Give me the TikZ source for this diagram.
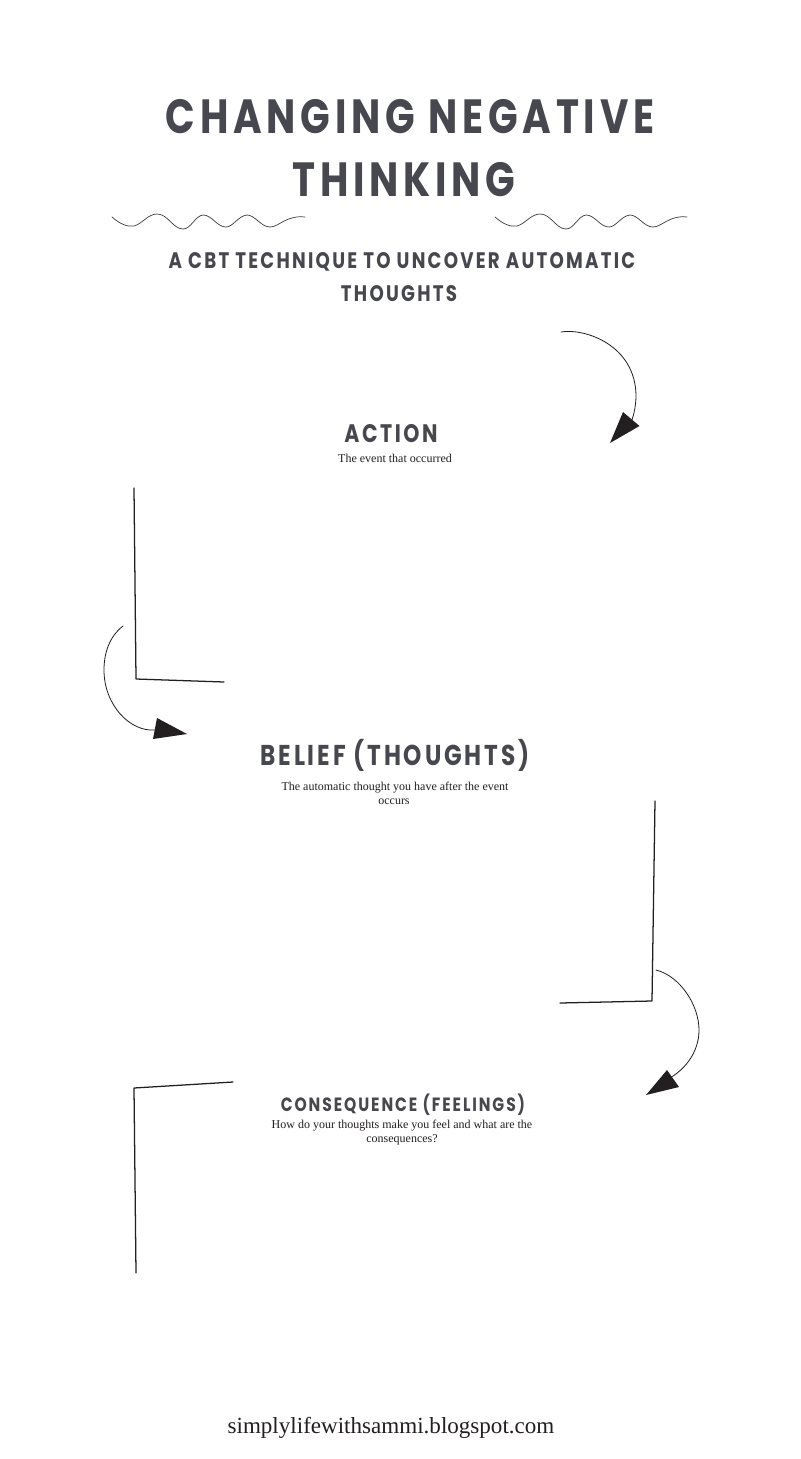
\documentclass[tikz,border=0pt]{standalone}
\usepackage{fontspec}
\setmainfont{Liberation Serif}
\newfontfamily\headfont[LetterSpace=10,FakeStretch=0.81]{Poppins Bold}
\definecolor{headink}{HTML}{47474F}
\definecolor{inkblack}{HTML}{231F20}
\tikzset{
  x=0.75pt,y=-0.75pt,
  headtext/.style={text=headink,inner sep=0pt,anchor=center},
  desctext/.style={text=inkblack,inner sep=0pt,anchor=center,font=\fontsize{9.0}{11}\selectfont},
  sketchline/.style={draw=inkblack,line width=0.95pt,line cap=round,line join=round},
  thincurve/.style={draw=inkblack,line width=0.6pt,line cap=round},
  wavy/.style={draw=inkblack!85,line width=0.55pt,line cap=round},
  arrowhead/.style={fill=inkblack,draw=none},
}
\begin{document}
\begin{tikzpicture}
\useasboundingbox (0,0) rectangle (800,1459);
\fill[white] (0,0) rectangle (800,1459);
\node[headtext,font=\headfont\fontsize{36}{40}\selectfont] (title1) at (410,117) {CHANGING NEGATIVE};
\node[headtext,font=\headfont\fontsize{36}{40}\selectfont] (title2) at (404,180) {THINKING};
\node[headtext,font=\headfont\fontsize{16.85}{20}\selectfont] (sub1) at (402,262) {A CBT TECHNIQUE TO UNCOVER AUTOMATIC};
\node[headtext,font=\headfont\fontsize{16.85}{20}\selectfont] (sub2) at (399,294) {THOUGHTS};
\node[headtext,font=\headfont\fontsize{19}{24}\selectfont] (action) at (391,434) {ACTION};
\node[desctext] (actiond) at (395,458) {The event that occurred};
\node[headtext,font=\headfont\fontsize{21.5}{26}\selectfont] (belief) at (395,755) {BELIEF (THOUGHTS)};
\node[desctext] (beliefd1) at (395,788) {The automatic thought you have after the event};
\node[desctext] (beliefd2) at (394,802) {occurs};
\node[headtext,font=\headfont\fontsize{14.4}{18}\selectfont] (conseq) at (403,1105) {CONSEQUENCE (FEELINGS)};
\node[desctext] (conseqd1) at (402,1126) {How do your thoughts make you feel and what are the};
\node[desctext] (conseqd2) at (402,1140) {consequences?};
\node[text=inkblack,inner sep=0pt,font=\fontsize{17.3}{20}\selectfont] (footer) at (391,1427.5) {simplylifewithsammi.blogspot.com};
% wavy rules
\draw[wavy] (112,217) .. controls (120,224) and (127,227) .. (134,226)
 .. controls (142,224) and (148,214) .. (157,214)
 .. controls (168,214) and (173,229) .. (183,229)
 .. controls (191,229) and (195,216) .. (203,215)
 .. controls (212,215) and (217,227) .. (226,227)
 .. controls (233,227) and (238,216) .. (247,215)
 .. controls (255,215) and (261,227) .. (270,227)
 .. controls (279,227) and (286,215) .. (305,217);
\draw[wavy] (495,217) .. controls (503,224) and (510,227) .. (517,226)
 .. controls (525,224) and (531,214) .. (540,214)
 .. controls (551,214) and (556,229) .. (566,229)
 .. controls (574,229) and (578,216) .. (586,215)
 .. controls (595,215) and (600,227) .. (609,227)
 .. controls (616,227) and (621,216) .. (630,215)
 .. controls (638,215) and (644,227) .. (653,227)
 .. controls (662,227) and (669,215) .. (687,217);
% arrow 1
\draw[thincurve] (561,332) .. controls (585,328) and (635,345) .. (636,395) .. controls (636,408) and (633,418) .. (630,425);
\fill[arrowhead] (623,412) -- (639.5,426) -- (610,443) -- cycle;
% corner 1
\draw[sketchline] (134,488) -- (136,679) -- (224,682);
% arrow 2
\draw[thincurve] (123,626) .. controls (110,636) and (104,652) .. (104,670) .. controls (104,705) and (130,732) .. (155,730);
\fill[arrowhead] (157,718) -- (187,734) -- (153,739) -- cycle;
% corner 2
\draw[sketchline] (655,801) -- (652,1001) -- (560,1003);
% arrow 3
\draw[thincurve] (656,970) .. controls (680,976) and (699,1005) .. (699,1030) .. controls (699,1052) and (685,1072) .. (662,1082);
\fill[arrowhead] (667,1070) -- (679,1087) -- (646,1095) -- cycle;
% corner 3
\draw[sketchline] (233,1082) -- (134,1088) -- (136,1273);
\end{tikzpicture}
\end{document}
